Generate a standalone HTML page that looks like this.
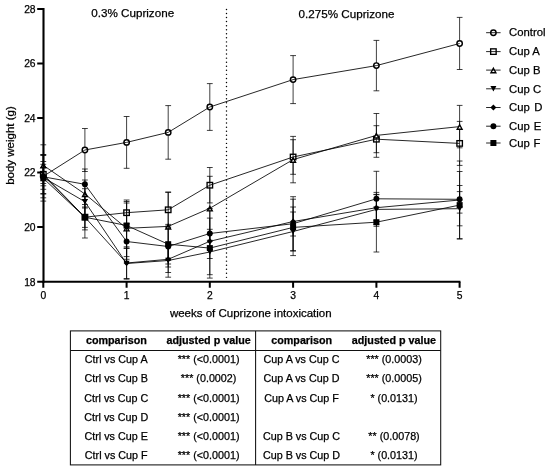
<!DOCTYPE html>
<html><head><meta charset="utf-8"><title>Body weight during Cuprizone intoxication</title>
<style>html,body{margin:0;padding:0;background:#fff}body{width:550px;height:472px;position:relative;overflow:hidden;font-family:"Liberation Sans",Arial,sans-serif}</style>
</head><body>
<svg width="550" height="472" viewBox="0 0 550 472" style="position:absolute;left:0;top:0">
<rect width="550" height="472" fill="#fff"/>
<line x1="226.5" y1="9.4" x2="226.5" y2="280" stroke="#000" stroke-width="1.45" stroke-linecap="round" stroke-dasharray="0.01 4.05"/>
<g>
<path d="M43.3 154.8V197.8M40.4 154.8H46.2M40.4 197.8H46.2M84.9 128.5V171.5M82.0 128.5H87.8M82.0 171.5H87.8M126.6 116.5V168.3M123.7 116.5H129.5M123.7 168.3H129.5M168.2 105.6V159.2M165.3 105.6H171.1M165.3 159.2H171.1M209.8 83.6V130.4M206.9 83.6H212.7M206.9 130.4H212.7M293.1 55.6V103.6M290.2 55.6H296.0M290.2 103.6H296.0M376.4 40.4V90.8M373.5 40.4H379.3M373.5 90.8H379.3M459.6 17.4V69.5M456.8 17.4H462.5M456.8 69.5H462.5" fill="none" stroke="#000" stroke-width="0.75"/>
<circle cx="43.3" cy="176.3" r="2.7" fill="#fff" stroke="#000" stroke-width="1.45"/>
<circle cx="84.9" cy="150.0" r="2.7" fill="#fff" stroke="#000" stroke-width="1.45"/>
<circle cx="126.6" cy="142.4" r="2.7" fill="#fff" stroke="#000" stroke-width="1.45"/>
<circle cx="168.2" cy="132.4" r="2.7" fill="#fff" stroke="#000" stroke-width="1.45"/>
<circle cx="209.8" cy="107.0" r="2.7" fill="#fff" stroke="#000" stroke-width="1.45"/>
<circle cx="293.1" cy="79.6" r="2.7" fill="#fff" stroke="#000" stroke-width="1.45"/>
<circle cx="376.4" cy="65.6" r="2.7" fill="#fff" stroke="#000" stroke-width="1.45"/>
<circle cx="459.6" cy="43.5" r="2.7" fill="#fff" stroke="#000" stroke-width="1.45"/>
<polyline points="43.3,176.3 84.9,150.0 126.6,142.4 168.2,132.4 209.8,107.0 293.1,79.6 376.4,65.6 459.6,43.5" fill="none" stroke="#000" stroke-width="0.85"/>
</g>
<g>
<path d="M43.3 154.5V194.1M40.4 154.5H46.2M40.4 194.1H46.2M84.9 204.5V229.9M82.0 204.5H87.8M82.0 229.9H87.8M126.6 201.5V223.9M123.7 201.5H129.5M123.7 223.9H129.5M168.2 192.0V227.6M165.3 192.0H171.1M165.3 227.6H171.1M209.8 167.5V202.9M206.9 167.5H212.7M206.9 202.9H212.7M293.1 139.7V174.3M290.2 139.7H296.0M290.2 174.3H296.0M376.4 125.7V152.7M373.5 125.7H379.3M373.5 152.7H379.3M459.6 121.4V165.4M456.8 121.4H462.5M456.8 165.4H462.5" fill="none" stroke="#000" stroke-width="0.75"/>
<rect x="40.55" y="171.55" width="5.5" height="5.5" fill="#fff" stroke="#000" stroke-width="1.35"/>
<rect x="82.19" y="214.45" width="5.5" height="5.5" fill="#fff" stroke="#000" stroke-width="1.35"/>
<rect x="123.82" y="209.95" width="5.5" height="5.5" fill="#fff" stroke="#000" stroke-width="1.35"/>
<rect x="165.45" y="207.05" width="5.5" height="5.5" fill="#fff" stroke="#000" stroke-width="1.35"/>
<rect x="207.09" y="182.45" width="5.5" height="5.5" fill="#fff" stroke="#000" stroke-width="1.35"/>
<rect x="290.36" y="154.25" width="5.5" height="5.5" fill="#fff" stroke="#000" stroke-width="1.35"/>
<rect x="373.63" y="136.45" width="5.5" height="5.5" fill="#fff" stroke="#000" stroke-width="1.35"/>
<rect x="456.90" y="140.65" width="5.5" height="5.5" fill="#fff" stroke="#000" stroke-width="1.35"/>
<polyline points="43.3,174.3 84.9,217.2 126.6,212.7 168.2,209.8 209.8,185.2 293.1,157.0 376.4,139.2 459.6,143.4" fill="none" stroke="#000" stroke-width="0.85"/>
</g>
<g>
<path d="M43.3 144.8V185.8M40.4 144.8H46.2M40.4 185.8H46.2M84.9 180.0V208.0M82.0 180.0H87.8M82.0 208.0H87.8M126.6 200.0V256.6M123.7 200.0H129.5M123.7 256.6H129.5M168.2 192.4V260.4M165.3 192.4H171.1M165.3 260.4H171.1M209.8 176.3V240.3M206.9 176.3H212.7M206.9 240.3H212.7M293.1 136.4V182.8M290.2 136.4H296.0M290.2 182.8H296.0M376.4 113.5V157.3M373.5 113.5H379.3M373.5 157.3H379.3M459.6 105.4V147.8M456.8 105.4H462.5M456.8 147.8H462.5" fill="none" stroke="#000" stroke-width="0.75"/>
<path d="M43.30 163.41L45.77 167.93L40.83 167.93Z" fill="#fff" stroke="#000" stroke-width="1.35" stroke-linejoin="miter"/>
<path d="M84.94 192.11L87.40 196.62L82.47 196.62Z" fill="#fff" stroke="#000" stroke-width="1.35" stroke-linejoin="miter"/>
<path d="M126.57 226.41L129.03 230.93L124.10 230.93Z" fill="#fff" stroke="#000" stroke-width="1.35" stroke-linejoin="miter"/>
<path d="M168.20 224.51L170.67 229.03L165.74 229.03Z" fill="#fff" stroke="#000" stroke-width="1.35" stroke-linejoin="miter"/>
<path d="M209.84 206.41L212.30 210.93L207.37 210.93Z" fill="#fff" stroke="#000" stroke-width="1.35" stroke-linejoin="miter"/>
<path d="M293.11 157.71L295.57 162.22L290.65 162.22Z" fill="#fff" stroke="#000" stroke-width="1.35" stroke-linejoin="miter"/>
<path d="M376.38 133.51L378.84 138.03L373.92 138.03Z" fill="#fff" stroke="#000" stroke-width="1.35" stroke-linejoin="miter"/>
<path d="M459.65 124.71L462.11 129.22L457.19 129.22Z" fill="#fff" stroke="#000" stroke-width="1.35" stroke-linejoin="miter"/>
<polyline points="43.3,165.3 84.9,194.0 126.6,228.3 168.2,226.4 209.8,208.3 293.1,159.6 376.4,135.4 459.6,126.6" fill="none" stroke="#000" stroke-width="0.85"/>
</g>
<g>
<path d="M43.3 161.5V193.5M40.4 161.5H46.2M40.4 193.5H46.2M84.9 188.7V214.7M82.0 188.7H87.8M82.0 214.7H87.8M126.6 248.5V278.5M123.7 248.5H129.5M123.7 278.5H129.5M168.2 243.8V277.2M165.3 243.8H171.1M165.3 277.2H171.1M209.8 229.3V274.7M206.9 229.3H212.7M206.9 274.7H212.7M293.1 212.0V251.0M290.2 212.0H296.0M290.2 251.0H296.0M376.4 194.4V224.4M373.5 194.4H379.3M373.5 224.4H379.3M459.6 191.6V225.8M456.8 191.6H462.5M456.8 225.8H462.5" fill="none" stroke="#000" stroke-width="0.75"/>
<path d="M43.30 180.30L46.30 174.70L40.30 174.70Z" fill="#000"/>
<path d="M84.94 204.50L87.94 198.90L81.94 198.90Z" fill="#000"/>
<path d="M126.57 266.30L129.57 260.70L123.57 260.70Z" fill="#000"/>
<path d="M168.20 263.30L171.20 257.70L165.20 257.70Z" fill="#000"/>
<path d="M209.84 254.80L212.84 249.20L206.84 249.20Z" fill="#000"/>
<path d="M293.11 234.30L296.11 228.70L290.11 228.70Z" fill="#000"/>
<path d="M376.38 212.20L379.38 206.60L373.38 206.60Z" fill="#000"/>
<path d="M459.65 211.50L462.65 205.90L456.65 205.90Z" fill="#000"/>
<polyline points="43.3,177.5 84.9,201.7 126.6,263.5 168.2,260.5 209.8,252.0 293.1,231.5 376.4,209.4 459.6,208.7" fill="none" stroke="#000" stroke-width="0.85"/>
</g>
<g>
<path d="M43.3 167.5V183.5M40.4 167.5H46.2M40.4 183.5H46.2M84.9 207.0V227.4M82.0 207.0H87.8M82.0 227.4H87.8M126.6 246.8V279.2M123.7 246.8H129.5M123.7 279.2H129.5M168.2 246.1V272.5M165.3 246.1H171.1M165.3 272.5H171.1M209.8 233.3V249.3M206.9 233.3H212.7M206.9 249.3H212.7M293.1 207.0V236.0M290.2 207.0H296.0M290.2 236.0H296.0M376.4 194.7V220.7M373.5 194.7H379.3M373.5 220.7H379.3M459.6 161.0V239.0M456.8 161.0H462.5M456.8 239.0H462.5" fill="none" stroke="#000" stroke-width="0.75"/>
<path d="M43.30 172.50L46.30 175.50L43.30 178.50L40.30 175.50Z" fill="#000"/>
<path d="M84.94 214.20L87.94 217.20L84.94 220.20L81.94 217.20Z" fill="#000"/>
<path d="M126.57 260.00L129.57 263.00L126.57 266.00L123.57 263.00Z" fill="#000"/>
<path d="M168.20 256.30L171.20 259.30L168.20 262.30L165.20 259.30Z" fill="#000"/>
<path d="M209.84 238.30L212.84 241.30L209.84 244.30L206.84 241.30Z" fill="#000"/>
<path d="M293.11 218.50L296.11 221.50L293.11 224.50L290.11 221.50Z" fill="#000"/>
<path d="M376.38 204.70L379.38 207.70L376.38 210.70L373.38 207.70Z" fill="#000"/>
<path d="M459.65 197.00L462.65 200.00L459.65 203.00L456.65 200.00Z" fill="#000"/>
<polyline points="43.3,175.5 84.9,217.2 126.6,263.0 168.2,259.3 209.8,241.3 293.1,221.5 376.4,207.7 459.6,200.0" fill="none" stroke="#000" stroke-width="0.85"/>
</g>
<g>
<path d="M43.3 164.3V189.3M40.4 164.3H46.2M40.4 189.3H46.2M84.9 169.0V199.6M82.0 169.0H87.8M82.0 199.6H87.8M126.6 223.7V259.3M123.7 223.7H129.5M123.7 259.3H129.5M168.2 226.0V267.0M165.3 226.0H171.1M165.3 267.0H171.1M209.8 208.5V258.5M206.9 208.5H212.7M206.9 258.5H212.7M293.1 196.7V250.7M290.2 196.7H296.0M290.2 250.7H296.0M376.4 171.3V226.3M373.5 171.3H379.3M373.5 226.3H379.3M459.6 185.5V213.1M456.8 185.5H462.5M456.8 213.1H462.5" fill="none" stroke="#000" stroke-width="0.75"/>
<circle cx="43.3" cy="176.8" r="2.95" fill="#000"/>
<circle cx="84.9" cy="184.3" r="2.95" fill="#000"/>
<circle cx="126.6" cy="241.5" r="2.95" fill="#000"/>
<circle cx="168.2" cy="246.5" r="2.95" fill="#000"/>
<circle cx="209.8" cy="233.5" r="2.95" fill="#000"/>
<circle cx="293.1" cy="223.7" r="2.95" fill="#000"/>
<circle cx="376.4" cy="198.8" r="2.95" fill="#000"/>
<circle cx="459.6" cy="199.3" r="2.95" fill="#000"/>
<polyline points="43.3,176.8 84.9,184.3 126.6,241.5 168.2,246.5 209.8,233.5 293.1,223.7 376.4,198.8 459.6,199.3" fill="none" stroke="#000" stroke-width="0.85"/>
</g>
<g>
<path d="M43.3 155.5V201.1M40.4 155.5H46.2M40.4 201.1H46.2M84.9 196.4V238.0M82.0 196.4H87.8M82.0 238.0H87.8M126.6 203.0V248.0M123.7 203.0H129.5M123.7 248.0H129.5M168.2 224.4V264.0M165.3 224.4H171.1M165.3 264.0H171.1M209.8 218.1V278.1M206.9 218.1H212.7M206.9 278.1H212.7M293.1 199.2V255.6M290.2 199.2H296.0M290.2 255.6H296.0M376.4 192.4V252.0M373.5 192.4H379.3M373.5 252.0H379.3M459.6 171.5V238.7M456.8 171.5H462.5M456.8 238.7H462.5" fill="none" stroke="#000" stroke-width="0.75"/>
<rect x="40.30" y="175.30" width="6.0" height="6.0" fill="#000"/>
<rect x="81.94" y="214.20" width="6.0" height="6.0" fill="#000"/>
<rect x="123.57" y="222.50" width="6.0" height="6.0" fill="#000"/>
<rect x="165.20" y="241.20" width="6.0" height="6.0" fill="#000"/>
<rect x="206.84" y="245.10" width="6.0" height="6.0" fill="#000"/>
<rect x="290.11" y="224.40" width="6.0" height="6.0" fill="#000"/>
<rect x="373.38" y="219.20" width="6.0" height="6.0" fill="#000"/>
<rect x="456.65" y="202.10" width="6.0" height="6.0" fill="#000"/>
<polyline points="43.3,178.3 84.9,217.2 126.6,225.5 168.2,244.2 209.8,248.1 293.1,227.4 376.4,222.2 459.6,205.1" fill="none" stroke="#000" stroke-width="0.85"/>
</g>
<g stroke="#000" stroke-width="2.1" fill="none">
<path d="M43.5 7.95V282.7"/>
<path d="M42.45 281.7H460.4"/>
</g>
<g stroke="#000" stroke-width="2.0" fill="none">
<path d="M37.2 8.9H43.5M37.2 63.5H43.5M37.2 118.0H43.5M37.2 172.6H43.5M37.2 227.1H43.5M37.2 281.7H43.5M43.3 281.7V287.8M126.6 281.7V287.8M209.8 281.7V287.8M293.1 281.7V287.8M376.4 281.7V287.8M459.6 281.7V287.8"/>
</g>
<g font-family="'Liberation Sans', Arial, sans-serif" font-size="10.3" fill="#000" stroke="#000" stroke-width="0.25">
<text x="35.6" y="12.7" text-anchor="end">28</text>
<text x="35.6" y="67.3" text-anchor="end">26</text>
<text x="35.6" y="121.8" text-anchor="end">24</text>
<text x="35.6" y="176.4" text-anchor="end">22</text>
<text x="35.6" y="230.9" text-anchor="end">20</text>
<text x="35.6" y="285.5" text-anchor="end">18</text>
<text x="43.3" y="299.0" text-anchor="middle">0</text>
<text x="126.6" y="299.0" text-anchor="middle">1</text>
<text x="209.8" y="299.0" text-anchor="middle">2</text>
<text x="293.1" y="299.0" text-anchor="middle">3</text>
<text x="376.4" y="299.0" text-anchor="middle">4</text>
<text x="459.6" y="299.0" text-anchor="middle">5</text>
</g>
<g font-family="'Liberation Sans', Arial, sans-serif" font-size="11.5" fill="#000" stroke="#000" stroke-width="0.25">
<text x="132.7" y="16.5" text-anchor="middle" font-size="11.65">0.3% Cuprizone</text>
<text x="346.5" y="18" text-anchor="middle" font-size="11.65">0.275% Cuprizone</text>
<text x="250.8" y="317.1" text-anchor="middle">weeks of Cuprizone intoxication</text>
<text transform="translate(14.3 145.5) rotate(-90)" text-anchor="middle">body weight (g)</text>
</g>
<g font-family="'Liberation Sans', Arial, sans-serif" font-size="11.3" fill="#000">
<circle cx="493.4" cy="32.7" r="2.7" fill="#fff" stroke="#000" stroke-width="1.45"/>
<line x1="486.1" y1="32.7" x2="500.6" y2="32.7" stroke="#000" stroke-width="0.85"/>
<text x="509.1" y="36.4" stroke="#000" stroke-width="0.25" word-spacing="0">Control</text>
<rect x="490.65" y="48.85" width="5.5" height="5.5" fill="#fff" stroke="#000" stroke-width="1.35"/>
<line x1="486.1" y1="51.6" x2="500.6" y2="51.6" stroke="#000" stroke-width="0.85"/>
<text x="509.1" y="55.3" stroke="#000" stroke-width="0.25" word-spacing="0">Cup A</text>
<path d="M493.40 68.21L495.86 72.72L490.94 72.72Z" fill="#fff" stroke="#000" stroke-width="1.35" stroke-linejoin="miter"/>
<line x1="486.1" y1="70.1" x2="500.6" y2="70.1" stroke="#000" stroke-width="0.85"/>
<text x="509.1" y="73.8" stroke="#000" stroke-width="0.25" word-spacing="0">Cup B</text>
<path d="M493.40 91.60L496.40 86.00L490.40 86.00Z" fill="#000"/>
<line x1="486.1" y1="88.8" x2="500.6" y2="88.8" stroke="#000" stroke-width="0.85"/>
<text x="509.1" y="92.5" stroke="#000" stroke-width="0.25" word-spacing="0">Cup C</text>
<path d="M493.40 104.50L496.40 107.50L493.40 110.50L490.40 107.50Z" fill="#000"/>
<line x1="486.1" y1="107.5" x2="500.6" y2="107.5" stroke="#000" stroke-width="0.85"/>
<text x="509.1" y="111.2" stroke="#000" stroke-width="0.25" word-spacing="1.3">Cup D</text>
<circle cx="493.4" cy="126.2" r="2.95" fill="#000"/>
<line x1="486.1" y1="126.2" x2="500.6" y2="126.2" stroke="#000" stroke-width="0.85"/>
<text x="509.1" y="129.9" stroke="#000" stroke-width="0.25" word-spacing="0.9">Cup E</text>
<rect x="490.40" y="140.00" width="6.0" height="6.0" fill="#000"/>
<line x1="486.1" y1="143.0" x2="500.6" y2="143.0" stroke="#000" stroke-width="0.85"/>
<text x="509.1" y="146.7" stroke="#000" stroke-width="0.25" word-spacing="0.5">Cup F</text>
</g>
<g fill="none" stroke="#111" stroke-width="1.05">
<rect x="70.4" y="330.9" width="370.3" height="134"/>
<path d="M70.4 350.5H440.7M255.6 330.9V464.9"/>
</g>
<g font-family="'Liberation Sans', Arial, sans-serif" font-size="10.75" fill="#000" stroke="#000" stroke-width="0.25" text-anchor="middle">
<g font-weight="bold">
<text x="116.4" y="343.7">comparison</text>
<text x="208.6" y="343.7">adjusted p value</text>
<text x="301.7" y="343.7">comparison</text>
<text x="393.9" y="343.7">adjusted p value</text>
</g>
<text x="116.2" y="363.3">Ctrl vs Cup A</text>
<text x="208.6" y="363.3">*** (&lt;0.0001)</text>
<text x="301.5" y="363.3">Cup A vs Cup C</text>
<text x="394.0" y="363.3">*** (0.0003)</text>
<text x="116.2" y="382.4">Ctrl vs Cup B</text>
<text x="208.6" y="382.4">*** (0.0002)</text>
<text x="301.5" y="382.4">Cup A vs Cup D</text>
<text x="394.0" y="382.4">*** (0.0005)</text>
<text x="116.2" y="401.6">Ctrl vs Cup C</text>
<text x="208.6" y="401.6">*** (&lt;0.0001)</text>
<text x="301.5" y="401.6">Cup A vs Cup F</text>
<text x="394.0" y="401.6">* (0.0131)</text>
<text x="116.2" y="420.7">Ctrl vs Cup D</text>
<text x="208.6" y="420.7">*** (&lt;0.0001)</text>
<text x="116.2" y="439.9">Ctrl vs Cup E</text>
<text x="208.6" y="439.9">*** (&lt;0.0001)</text>
<text x="301.5" y="439.9">Cup B vs Cup C</text>
<text x="394.0" y="439.9">** (0.0078)</text>
<text x="116.2" y="459.0">Ctrl vs Cup F</text>
<text x="208.6" y="459.0">*** (&lt;0.0001)</text>
<text x="301.5" y="459.0">Cup B vs Cup D</text>
<text x="394.0" y="459.0">* (0.0131)</text>
</g>
</svg>
</body></html>
